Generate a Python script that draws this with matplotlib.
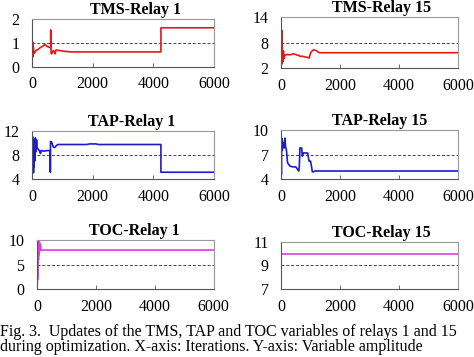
import matplotlib.pyplot as plt

plt.rcParams['font.family'] = ['Liberation Serif', 'DejaVu Serif']

# TMS - relay 1
tms1_x = [0, 0, 5, 8, 12, 16, 20, 25, 30, 35, 40, 45, 55, 70, 90, 120, 160, 200, 260, 330, 430, 480, 530,
          600, 612, 618, 630, 650, 700, 740, 760, 790, 900, 1000, 1100, 1200, 1300, 4250, 4250, 6000]
tms1_y = [0.05, 2.0, 0.3, 1.0, 0.45, 1.05, 0.4, 1.0, 0.45, 0.9, 0.5, 0.8, 0.55, 0.6, 0.58, 0.66, 0.7, 0.72, 0.79, 0.84, 0.93, 0.88, 0.83,
          0.8, 0.8, 1.54, 0.55, 0.54, 0.68, 0.62, 0.54, 0.7, 0.68, 0.66, 0.64, 0.63, 0.62, 0.62, 1.63, 1.63]

# TMS - relay 15
tms15_x = [0, 0, 5, 10, 15, 20, 25, 30, 35, 40, 50, 60, 70, 80, 90, 100, 120, 150, 200, 300, 400, 500, 550, 600,
           650, 700, 800, 900, 950, 1000, 1050, 1100, 1150, 1200, 1250, 1300, 1350, 6000]
tms15_y = [2.0, 14.0, 2.5, 6.0, 3.0, 11.0, 4.0, 9.0, 3.0, 7.0, 4.0, 5.5, 3.5, 6.0, 4.5, 4.2, 5.0, 5.0, 5.2, 5.1, 5.3, 5.2, 5.0, 5.0,
           4.7, 4.8, 4.6, 4.5, 4.3, 5.5, 6.0, 6.3, 6.2, 6.1, 5.8, 5.6, 5.6, 5.6]

# TAP - relay 1
tap1_x = [0, 0, 10, 20, 30, 40, 50, 60, 70, 80, 100, 110, 130, 150, 170, 200, 250, 280, 300, 400, 500, 600, 600,
          610, 610, 650, 700, 750, 800, 850, 1000, 1800, 1900, 2100, 2200, 4250, 4250, 6000]
tap1_y = [4.5, 12.0, 5.0, 11.0, 5.5, 10.0, 5.0, 9.0, 6.0, 10.5, 7.0, 10.8, 8.5, 10.5, 9.0, 9.0, 8.6, 8.2, 8.7, 8.6, 8.7, 8.7, 5.1,
          5.1, 10.2, 10.1, 9.3, 9.2, 9.5, 9.7, 9.7, 9.7, 9.8, 9.8, 9.7, 9.7, 5.1, 5.1]

# TAP - relay 15
tap15_x = [0, 0, 10, 20, 40, 60, 80, 100, 130, 150, 180, 220, 260, 300, 400, 500, 560, 600, 620, 640, 700, 720,
           760, 900, 950, 1000, 1040, 1060, 1100, 1150, 6000]
tap15_y = [4.2, 10.0, 4.5, 9.0, 7.5, 8.5, 8.0, 7.8, 9.0, 8.0, 7.6, 6.0, 5.8, 5.6, 5.5, 5.5, 5.2, 5.0, 5.6, 7.8, 7.8, 6.8,
           7.2, 7.2, 6.2, 6.2, 5.4, 4.9, 4.9, 5.0, 5.0]

# TOC - relay 1
toc1_x = [0, 0, 10, 15, 20, 25, 30, 35, 40, 45, 50, 55, 60, 70, 80, 90, 100, 110, 120, 130, 6000]
toc1_y = [0.5, 10.0, 1.0, 10.0, 2.0, 9.8, 3.0, 10.0, 5.0, 9.5, 6.0, 10.0, 7.0, 9.0, 7.5, 9.5, 8.5, 8.2, 9.0, 8.0, 8.0]

# TOC - relay 15
toc15_x = [0, 0, 6000]
toc15_y = [7.0, 10.0, 10.0]

titles = ['TMS-Relay 1', 'TMS-Relay 15', 'TAP-Relay 1', 'TAP-Relay 15', 'TOC-Relay 1', 'TOC-Relay 15']
yticks = [[0, 1, 2], [2, 8, 14], [4, 8, 12], [4, 7, 10], [0, 5, 10], [7, 9, 11]]
series = [(tms1_x, tms1_y), (tms15_x, tms15_y), (tap1_x, tap1_y),
          (tap15_x, tap15_y), (toc1_x, toc1_y), (toc15_x, toc15_y)]
colors = ['#ee1515', '#ee1515', '#1c1cc8', '#1c1cc8', '#e03ce0', '#e03ce0']

# axes boxes (left, bottom, width, height) in figure fractions
boxes = [[0.0675, 0.813, 0.384, 0.134],
         [0.593, 0.810, 0.373, 0.141],
         [0.0675, 0.499, 0.384, 0.135],
         [0.593, 0.498, 0.373, 0.138],
         [0.078, 0.190, 0.373, 0.137],
         [0.593, 0.190, 0.373, 0.133]]
title_x = [0.57, 0.57, 0.545, 0.555, 0.55, 0.565]

fig = plt.figure(figsize=(4.74, 3.57), dpi=100)

for i in range(6):
    ax = fig.add_axes(boxes[i])
    x, y = series[i]
    ax.plot(x, y, color=colors[i], linewidth=1.2)
    ax.set_xlim(0, 6000)
    ax.set_ylim(yticks[i][0], yticks[i][-1])
    ax.set_xticks([0, 2000, 4000, 6000])
    ax.set_yticks(yticks[i])
    for yv in yticks[i][1:]:
        ax.axhline(yv, color='#444444', linestyle=(0, (3, 2)), linewidth=0.7, zorder=0.5)
    for s in ['top', 'right']:
        ax.spines[s].set_color('#999999')
    for s in ['left', 'bottom']:
        ax.spines[s].set_color('#555555')
    for s in ax.spines.values():
        s.set_linewidth(0.8)
    ax.tick_params(direction='in', length=3, width=0.6, color='#555555', labelsize=11.5,
                   pad=7)
    ax.tick_params(axis='y', length=0, pad=9)
    ax.text(title_x[i], 1.02, titles[i], transform=ax.transAxes, ha='center', va='bottom',
            fontsize=11.5, fontweight='bold')

fig.text(0.0, 0.071, 'Fig. 3.  Updates of the TMS, TAP and TOC variables of relays 1 and 15',
         fontsize=11.5, ha='left', va='center')
fig.text(0.0, 0.029, 'during optimization. X-axis: Iterations. Y-axis: Variable amplitude',
         fontsize=11.5, ha='left', va='center')

fig.savefig('out.png', dpi=100)
